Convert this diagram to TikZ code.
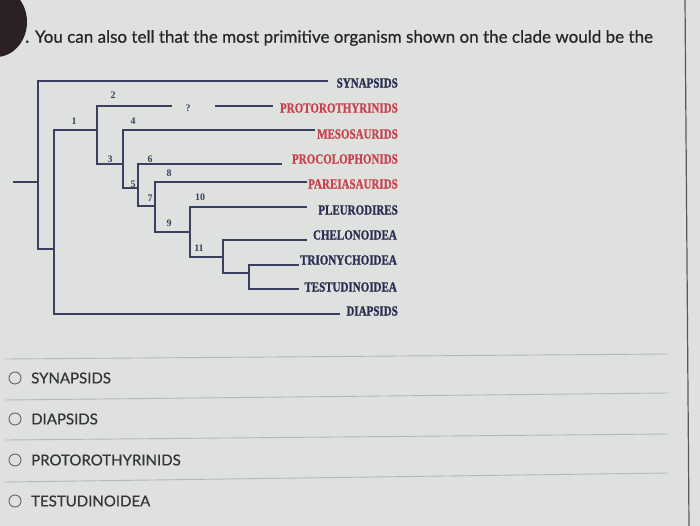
\documentclass[tikz,border=0pt]{standalone}
\usepackage{fontspec}
\usepackage{graphicx}
\setmainfont{Liberation Serif}
\newfontfamily\taxfont[FakeBold=1.2]{Liberation Serif Bold}
\newfontfamily\latofont{Lato}
\newfontfamily\latohdr[FakeBold=0.6]{Lato}
\newcommand\tallertext[1]{\scalebox{1}[1.27]{#1}}
\definecolor{bgc}{HTML}{DEE1DE}
\definecolor{treeblue}{HTML}{3B4060}
\definecolor{navytxt}{HTML}{2A2E52}
\definecolor{redtxt}{HTML}{C8434F}
\definecolor{hdr}{HTML}{25262B}
\definecolor{opt}{HTML}{34363C}
\definecolor{sepc}{HTML}{B4B8B6}
\definecolor{blobc}{HTML}{2B2024}
\begin{document}
\begin{tikzpicture}[x=1pt,y=-1pt,
  tree/.style={draw=treeblue, line width=1.8pt},
  taxon/.style={anchor=east, inner sep=0pt, font=\taxfont\fontsize{11}{12}\selectfont},
  navy/.style={taxon, text=navytxt},
  red/.style={taxon, text=redtxt},
  num/.style={inner sep=0pt, text=treeblue, font=\fontsize{10}{11}\selectfont\bfseries},
  sep/.style={draw=sepc, line width=0.9pt},
  radio/.style={draw=gray!80!black, line width=0.9pt},
  optlabel/.style={anchor=west, inner sep=0pt, text=opt, font=\latohdr\fontsize{15}{16}\selectfont}]
\fill[bgc] (0,0) rectangle (700,526);
\useasboundingbox (0,0) rectangle (700,526);
% photo artefacts
\fill[blobc] (-4,22) ellipse [x radius=31, y radius=35];
\coordinate (edgeT) at (685,0);
\coordinate (edgeB) at (689,526);
\draw[draw=gray!70!black, line width=1.2pt] (edgeT) -- (edgeB);
% header
\node[anchor=west, inner sep=0pt, text=hdr, font=\latohdr\fontsize{17}{18}\selectfont] (question) at (25,38) {. You can also tell that the most primitive organism shown on the clade would be the};
% tree coordinates
\coordinate (root) at (13,182);
\coordinate (r) at (38,182);
\coordinate (rt) at (38,81);
\coordinate (rb) at (38,249);
\coordinate (synT) at (328,81);
\coordinate (n1b) at (54,249);
\coordinate (n1t) at (54,130);
\coordinate (n1bot) at (54,314);
\coordinate (diaT) at (340,314);
\coordinate (n2j) at (97,130);
\coordinate (n2t) at (97,106);
\coordinate (n2b) at (97,164);
\coordinate (protoL) at (172,106);
\coordinate (protoR) at (215,106);
\coordinate (protoT) at (273,106);
\coordinate (n4j) at (123,164);
\coordinate (n4t) at (123,130);
\coordinate (n4b) at (123,188);
\coordinate (mesoT) at (315,130);
\coordinate (n6j) at (138,188);
\coordinate (n6t) at (138,164);
\coordinate (n6b) at (138,206);
\coordinate (procT) at (282,164);
\coordinate (n8j) at (155,206);
\coordinate (n8t) at (155,182);
\coordinate (n8b) at (155,232);
\coordinate (parT) at (307,182);
\coordinate (n10j) at (190,232);
\coordinate (n10t) at (190,207);
\coordinate (n10b) at (190,257);
\coordinate (pleT) at (307,207);
\coordinate (n11j) at (223,257);
\coordinate (n11t) at (223,240);
\coordinate (n11b) at (223,273);
\coordinate (cheT) at (307,240);
\coordinate (n12j) at (249,273);
\coordinate (n12t) at (249,265);
\coordinate (n12b) at (249,289);
\coordinate (triT) at (299,265);
\coordinate (tesT) at (299,289);
% tree lines
\draw[tree] (root) -- (r);
\draw[tree] (synT) -- (rt) -- (rb) -- (n1b);
\draw[tree] (n2j) -- (n1t) -- (n1bot) -- (diaT);
\draw[tree] (protoL) -- (n2t) -- (n2b) -- (n4j);
\draw[tree] (protoR) -- (protoT);
\draw[tree] (mesoT) -- (n4t) -- (n4b) -- (n6j);
\draw[tree] (procT) -- (n6t) -- (n6b) -- (n8j);
\draw[tree] (parT) -- (n8t) -- (n8b) -- (n10j);
\draw[tree] (pleT) -- (n10t) -- (n10b) -- (n11j);
\draw[tree] (cheT) -- (n11t) -- (n11b) -- (n12j);
\draw[tree] (triT) -- (n12t) -- (n12b) -- (tesT);
% taxa
\node[navy] (syn) at (398,83) {\tallertext{SYNAPSIDS}};
\node[red] (proto) at (398,108) {\tallertext{PROTOROTHYRINIDS}};
\node[red] (meso) at (398,134) {\tallertext{MESOSAURIDS}};
\node[red] (proc) at (398,159) {\tallertext{PROCOLOPHONIDS}};
\node[red] (par) at (398,184) {\tallertext{PAREIASAURIDS}};
\node[navy] (ple) at (398,210) {\tallertext{PLEURODIRES}};
\node[navy] (che) at (397,235) {\tallertext{CHELONOIDEA}};
\node[navy] (tri) at (397,260) {\tallertext{TRIONYCHOIDEA}};
\node[navy] (tes) at (397,287) {\tallertext{TESTUDINOIDEA}};
\node[navy] (dia) at (398,311) {\tallertext{DIAPSIDS}};
% node numbers
\node[num] (l1) at (74,121) {1};
\node[num] (l2) at (113,95) {2};
\node[num] (lq) at (188,108) {?};
\node[num] (l3) at (110,159) {3};
\node[num] (l4) at (133,121) {4};
\node[num] (l5) at (133,184) {5};
\node[num] (l6) at (150,159) {6};
\node[num] (l7) at (150,198) {7};
\node[num] (l8) at (169,173) {8};
\node[num] (l9) at (169,223) {9};
\node[num] (l10) at (200,197) {10};
\node[num] (l11) at (199,248) {11};
% answer options
\coordinate (s1a) at (5,359); \coordinate (s1b) at (668,354);
\coordinate (s2a) at (5,400); \coordinate (s2b) at (668,393);
\coordinate (s3a) at (5,440); \coordinate (s3b) at (668,434);
\coordinate (s4a) at (5,482); \coordinate (s4b) at (668,473);
\draw[sep] (s1a) -- (s1b);
\draw[sep] (s2a) -- (s2b);
\draw[sep] (s3a) -- (s3b);
\draw[sep] (s4a) -- (s4b);
\draw[radio] (15,378) circle [radius=6];
\draw[radio] (15,419) circle [radius=6];
\draw[radio] (15,460) circle [radius=6];
\draw[radio] (15,501) circle [radius=6];
\node[optlabel] (o1) at (31,378) {SYNAPSIDS};
\node[optlabel] (o2) at (31,419) {DIAPSIDS};
\node[optlabel] (o3) at (31,460) {PROTOROTHYRINIDS};
\node[optlabel] (o4) at (31,501) {TESTUDINOIDEA};
\end{tikzpicture}
\end{document}
